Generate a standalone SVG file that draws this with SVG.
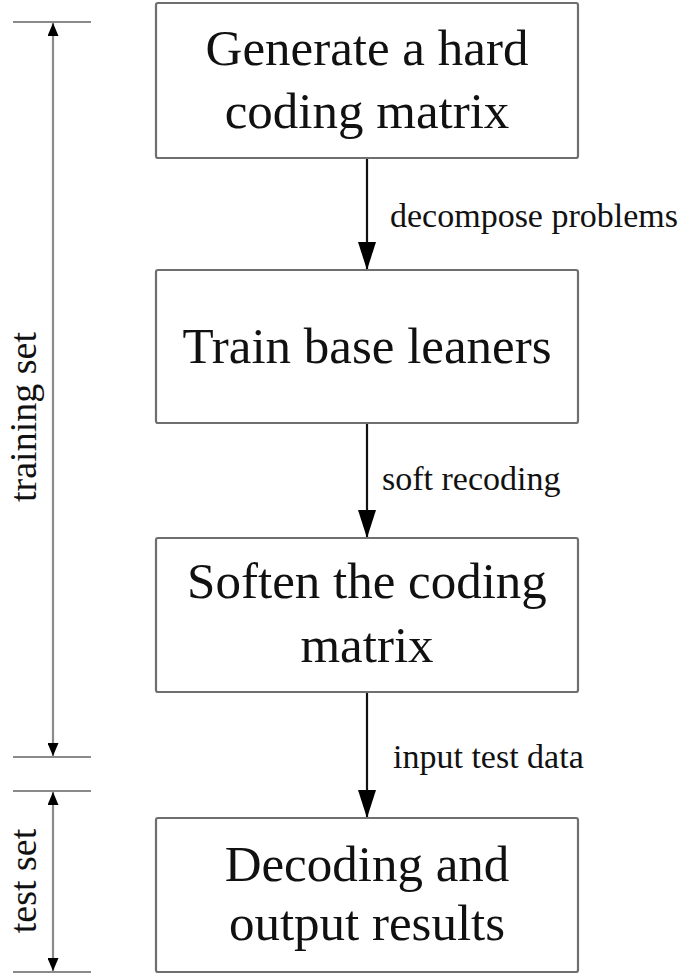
<svg xmlns="http://www.w3.org/2000/svg" width="685" height="976" viewBox="0 0 685 976">
<style>
.box{fill:#fff;stroke:#6f6f6f;stroke-width:2.2}
.t{font-family:"Liberation Serif","Times New Roman",serif;font-size:51px;fill:#111;text-anchor:middle}
.lbl{font-family:"Liberation Serif","Times New Roman",serif;font-size:34px;fill:#111}
.side{font-family:"Liberation Serif","Times New Roman",serif;font-size:38px;fill:#111;text-anchor:middle}
.conn{stroke:#111;stroke-width:2.2;fill:none}
.dim{stroke:#8a8a8a;stroke-width:2.2;fill:none}
</style>
<defs>
<marker id="ah" markerWidth="28" markerHeight="18" refX="28" refY="9" orient="auto" markerUnits="userSpaceOnUse" viewBox="0 0 28 18">
<path d="M0,0 L28,9 L0,18 Z" fill="#000"/>
</marker>
<marker id="sh" markerWidth="13" markerHeight="11" refX="13" refY="5.5" orient="auto-start-reverse" markerUnits="userSpaceOnUse" viewBox="0 0 13 11">
<path d="M0,0 L13,5.5 L0,11 Z" fill="#000"/>
</marker>
</defs>
<g id="connectors">
<line class="conn" x1="367" y1="158" x2="367" y2="270" marker-end="url(#ah)"/>
<line class="conn" x1="367" y1="423" x2="367" y2="538" marker-end="url(#ah)"/>
<line class="conn" x1="367" y1="692" x2="367" y2="818" marker-end="url(#ah)"/>
<text class="lbl" x="390" y="227">decompose problems</text>
<text class="lbl" x="382" y="490">soft recoding</text>
<text class="lbl" x="393" y="768">input test data</text>
</g>
<g id="node1">
<rect class="box" x="156" y="3" width="422" height="155" rx="2"/>
<text class="t" x="367" y="65">Generate a hard</text>
<text class="t" x="367" y="128">coding matrix</text>
</g>
<g id="node2">
<rect class="box" x="156" y="270" width="422" height="153" rx="2"/>
<text class="t" x="367" y="363">Train base leaners</text>
</g>
<g id="node3">
<rect class="box" x="156" y="538" width="422" height="154" rx="2"/>
<text class="t" x="367" y="598">Soften the coding</text>
<text class="t" x="367" y="662">matrix</text>
</g>
<g id="node4">
<rect class="box" x="156" y="818" width="422" height="154" rx="2"/>
<text class="t" x="367" y="881">Decoding and</text>
<text class="t" x="367" y="940">output results</text>
</g>
<g id="training-set">
<line class="dim" x1="13" y1="22" x2="91" y2="22"/>
<line class="dim" x1="13" y1="757" x2="91" y2="757"/>
<line class="dim" x1="53" y1="23" x2="53" y2="756" marker-start="url(#sh)" marker-end="url(#sh)"/>
<text class="side" transform="translate(36,417) rotate(-90)">training set</text>
</g>
<g id="test-set">
<line class="dim" x1="13" y1="791" x2="91" y2="791"/>
<line class="dim" x1="13" y1="972" x2="91" y2="972"/>
<line class="dim" x1="53" y1="792" x2="53" y2="971" marker-start="url(#sh)" marker-end="url(#sh)"/>
<text class="side" transform="translate(36,881) rotate(-90)">test set</text>
</g>
</svg>
